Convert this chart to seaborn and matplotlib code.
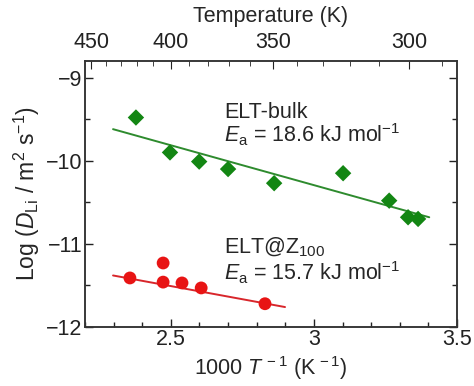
import numpy as np
import pandas as pd
import matplotlib
matplotlib.use("Agg")
import matplotlib.pyplot as plt
from matplotlib.ticker import MultipleLocator, FixedLocator
import seaborn as sns

# ELT-bulk (green diamonds)
bulk_x = [2.378, 2.497, 2.599, 2.700, 2.861, 3.102, 3.263, 3.329, 3.364]
bulk_y = [-9.48, -9.90, -10.01, -10.10, -10.27, -10.15, -10.48, -10.68, -10.70]
bulk_fit_x = [2.298, 3.403]
bulk_fit_y = [-9.62, -10.68]

# ELT@Z100 (red circles)
z_x = [2.357, 2.473, 2.473, 2.539, 2.606, 2.829]
z_y = [-11.41, -11.23, -11.46, -11.47, -11.53, -11.72]
z_fit_x = [2.298, 2.899]
z_fit_y = [-11.38, -11.76]

x_ticks = [2.5, 3.0, 3.5]
x_ticklabels = ["2.5", "3", "3.5"]
y_ticks = [-12, -11, -10, -9]
temp_ticks = [450, 400, 350, 300]

sns.set_style("ticks")
plt.rcParams['font.family'] = ['Liberation Sans', 'DejaVu Sans']
plt.rcParams['mathtext.fontset'] = 'custom'
plt.rcParams['mathtext.rm'] = 'Liberation Sans'
plt.rcParams['mathtext.it'] = 'Liberation Sans:italic'

red = "#e81414"
fs = 15.5

df_bulk = pd.DataFrame({"x": bulk_x, "y": bulk_y})
df_z = pd.DataFrame({"x": z_x, "y": z_y})

fig = plt.figure(figsize=(4.74, 3.86), dpi=100)
ax = fig.add_axes([85 / 474, 1 - 327 / 386, (457 - 85) / 474, (327 - 61) / 386])

sns.lineplot(x=bulk_fit_x, y=bulk_fit_y, ax=ax, color="#2e8b2e", lw=1.4)
sns.lineplot(x=z_fit_x, y=z_fit_y, ax=ax, color="#d8262b", lw=1.4)
sns.scatterplot(data=df_bulk, x="x", y="y", ax=ax, marker="D", s=70,
                color="#138613", edgecolor="none", zorder=3)
sns.scatterplot(data=df_z, x="x", y="y", ax=ax, marker="o", s=85,
                color=red, edgecolor="none", zorder=3)

ax.set_xlim(2.2, 3.5)
ax.set_ylim(-12, -8.8)
ax.set_xticks(x_ticks)
ax.set_xticklabels(x_ticklabels)
ax.set_yticks(y_ticks)
ax.set_yticklabels(["\u2212" + str(abs(v)) for v in y_ticks])
ax.xaxis.set_minor_locator(MultipleLocator(0.1))
ax.yaxis.set_minor_locator(MultipleLocator(0.5))
ax.tick_params(which="both", direction="in", top=False, right=True,
               labelsize=fs, width=1, colors="#222222")
ax.tick_params(axis="x", pad=1.5)
ax.tick_params(axis="y", pad=2)
ax.tick_params(which="major", length=6)
ax.tick_params(which="minor", length=3.5)
for sp in ax.spines.values():
    sp.set_linewidth(1.1)
    sp.set_color("#333333")

ax.set_xlabel(r"1000 $T^{\,-1}$ (K$^{\,-1}$)", fontsize=fs, labelpad=3)
ax.set_ylabel(r"Log ($D_{\mathrm{Li}}$ / m$^{2}$ s$^{-1}$)", fontsize=16.5, labelpad=3)

# top temperature axis
top = ax.twiny()
top.set_xlim(ax.get_xlim())
top.xaxis.set_major_locator(FixedLocator([1000 / t for t in temp_ticks]))
top.set_xticklabels([str(t) for t in temp_ticks])
minor_T = [t for t in range(290, 460, 10) if t not in temp_ticks]
top.xaxis.set_minor_locator(FixedLocator([1000 / t for t in minor_T]))
top.tick_params(which="both", direction="in", labelsize=fs, colors="#222222", pad=6)
top.tick_params(which="major", length=6)
top.tick_params(which="minor", length=3.5)
top.set_xlabel("Temperature (K)", fontsize=fs, labelpad=7)
for sp in top.spines.values():
    sp.set_linewidth(1.1)
    sp.set_color("#333333")

ax.text(2.686, -9.49, "ELT-bulk", fontsize=fs, va="baseline")
ax.text(2.686, -9.78, r"$E_{\mathrm{a}}$ = 18.6 kJ mol$^{-1}$", fontsize=fs, va="baseline")
ax.text(2.686, -11.12, r"ELT@Z$_{100}$", fontsize=fs, va="baseline")
ax.text(2.686, -11.44, r"$E_{\mathrm{a}}$ = 15.7 kJ mol$^{-1}$", fontsize=fs, va="baseline")

fig.savefig("out.png", dpi=100)
